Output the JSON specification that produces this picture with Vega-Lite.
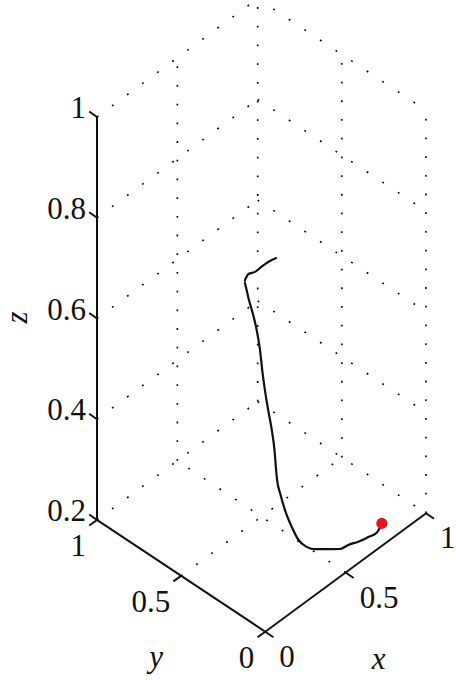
{
  "$schema": "https://vega.github.io/schema/vega-lite/v6.json",
  "width": 456,
  "height": 680,
  "padding": 0,
  "autosize": {"type": "none"},
  "background": "white",
  "config": {"view": {"stroke": null}},
  "datasets": {
    "grid": [
      {"x1": 0, "y1": 1, "z1": 0.2, "x2": 1, "y2": 1, "z2": 0.2},
      {"x1": 0, "y1": 1, "z1": 0.4, "x2": 1, "y2": 1, "z2": 0.4},
      {"x1": 0, "y1": 1, "z1": 0.6, "x2": 1, "y2": 1, "z2": 0.6},
      {"x1": 0, "y1": 1, "z1": 0.8, "x2": 1, "y2": 1, "z2": 0.8},
      {"x1": 0, "y1": 1, "z1": 1, "x2": 1, "y2": 1, "z2": 1},
      {"x1": 1, "y1": 1, "z1": 0.2, "x2": 1, "y2": 0, "z2": 0.2},
      {"x1": 1, "y1": 1, "z1": 0.4, "x2": 1, "y2": 0, "z2": 0.4},
      {"x1": 1, "y1": 1, "z1": 0.6, "x2": 1, "y2": 0, "z2": 0.6},
      {"x1": 1, "y1": 1, "z1": 0.8, "x2": 1, "y2": 0, "z2": 0.8},
      {"x1": 1, "y1": 1, "z1": 1, "x2": 1, "y2": 0, "z2": 1},
      {"x1": 0.5, "y1": 1, "z1": 0.2, "x2": 0.5, "y2": 1, "z2": 1},
      {"x1": 1, "y1": 1, "z1": 0.2, "x2": 1, "y2": 1, "z2": 1},
      {"x1": 1, "y1": 0.5, "z1": 0.2, "x2": 1, "y2": 0.5, "z2": 1},
      {"x1": 1, "y1": 0, "z1": 0.2, "x2": 1, "y2": 0, "z2": 1},
      {"x1": 0.5, "y1": 0, "z1": 0.2, "x2": 0.5, "y2": 1, "z2": 0.2},
      {"x1": 0, "y1": 0.5, "z1": 0.2, "x2": 1, "y2": 0.5, "z2": 0.2}
    ],
    "axes": [
      {"x1": 0, "y1": 1, "z1": 0.2, "x2": 0, "y2": 1, "z2": 1},
      {"x1": 0, "y1": 0, "z1": 0.2, "x2": 0, "y2": 1, "z2": 0.2},
      {"x1": 0, "y1": 0, "z1": 0.2, "x2": 1, "y2": 0, "z2": 0.2}
    ],
    "ticks": [
      {"axis": "z", "x": 0, "y": 1, "z": 0.2, "label": "0.2"},
      {"axis": "z", "x": 0, "y": 1, "z": 0.4, "label": "0.4"},
      {"axis": "z", "x": 0, "y": 1, "z": 0.6, "label": "0.6"},
      {"axis": "z", "x": 0, "y": 1, "z": 0.8, "label": "0.8"},
      {"axis": "z", "x": 0, "y": 1, "z": 1, "label": "1"},
      {"axis": "x", "x": 0, "y": 0, "z": 0.2, "label": "0"},
      {"axis": "x", "x": 0.5, "y": 0, "z": 0.2, "label": "0.5"},
      {"axis": "x", "x": 1, "y": 0, "z": 0.2, "label": "1"},
      {"axis": "y", "x": 0, "y": 0, "z": 0.2, "label": "0"},
      {"axis": "y", "x": 0, "y": 0.5, "z": 0.2, "label": "0.5"},
      {"axis": "y", "x": 0, "y": 1, "z": 0.2, "label": "1"}
    ],
    "titles": [
      {"axis": "x", "x": 0.5, "y": 0, "z": 0.2, "label": "x"},
      {"axis": "y", "x": 0, "y": 0.5, "z": 0.2, "label": "y"},
      {"axis": "z", "x": 0, "y": 1, "z": 0.6, "label": "z"}
    ],
    "curve": [
      {"i": 1, "x": 0.352, "y": 0.268, "z": 0.800},
      {"i": 2, "x": 0.326, "y": 0.294, "z": 0.792},
      {"i": 3, "x": 0.306, "y": 0.314, "z": 0.783},
      {"i": 4, "x": 0.286, "y": 0.334, "z": 0.773},
      {"i": 5, "x": 0.266, "y": 0.354, "z": 0.769},
      {"i": 6, "x": 0.258, "y": 0.362, "z": 0.761},
      {"i": 7, "x": 0.253, "y": 0.367, "z": 0.754},
      {"i": 8, "x": 0.258, "y": 0.362, "z": 0.744},
      {"i": 9, "x": 0.266, "y": 0.354, "z": 0.721},
      {"i": 10, "x": 0.276, "y": 0.344, "z": 0.698},
      {"i": 11, "x": 0.289, "y": 0.331, "z": 0.664},
      {"i": 12, "x": 0.301, "y": 0.319, "z": 0.618},
      {"i": 13, "x": 0.309, "y": 0.311, "z": 0.571},
      {"i": 14, "x": 0.316, "y": 0.304, "z": 0.538},
      {"i": 15, "x": 0.326, "y": 0.294, "z": 0.498},
      {"i": 16, "x": 0.337, "y": 0.283, "z": 0.458},
      {"i": 17, "x": 0.345, "y": 0.275, "z": 0.419},
      {"i": 18, "x": 0.350, "y": 0.270, "z": 0.379},
      {"i": 19, "x": 0.353, "y": 0.267, "z": 0.359},
      {"i": 20, "x": 0.362, "y": 0.258, "z": 0.333},
      {"i": 21, "x": 0.377, "y": 0.243, "z": 0.299},
      {"i": 22, "x": 0.397, "y": 0.223, "z": 0.266},
      {"i": 23, "x": 0.418, "y": 0.202, "z": 0.239},
      {"i": 24, "x": 0.443, "y": 0.177, "z": 0.225},
      {"i": 25, "x": 0.468, "y": 0.162, "z": 0.218},
      {"i": 26, "x": 0.519, "y": 0.131, "z": 0.213},
      {"i": 27, "x": 0.570, "y": 0.100, "z": 0.208},
      {"i": 28, "x": 0.610, "y": 0.090, "z": 0.209},
      {"i": 29, "x": 0.656, "y": 0.074, "z": 0.208},
      {"i": 30, "x": 0.702, "y": 0.058, "z": 0.210},
      {"i": 31, "x": 0.748, "y": 0.052, "z": 0.209},
      {"i": 32, "x": 0.789, "y": 0.061, "z": 0.216}
    ],
    "marker": [
      {"x": 0.789, "y": 0.061, "z": 0.216}
    ]
  },
  "layer": [
    {
      "data": {"name": "grid"},
      "transform": [
        {"calculate": "160.7*datum.x1 - 168.3*datum.y1", "as": "sx"},
        {"calculate": "118.4*datum.x1 + 111.7*datum.y1 + 503.75*(datum.z1 - 0.2)", "as": "sy"},
        {"calculate": "160.7*datum.x2 - 168.3*datum.y2", "as": "sx2"},
        {"calculate": "118.4*datum.x2 + 111.7*datum.y2 + 503.75*(datum.z2 - 0.2)", "as": "sy2"}
      ],
      "mark": {"type": "rule", "color": "#000000", "strokeWidth": 1.6, "strokeDash": [1.8, 16.9], "strokeCap": "butt"},
      "encoding": {
        "x": {"field": "sx", "type": "quantitative", "scale": {"domain": [-265.3, 190.7], "nice": false, "zero": false}, "axis": null},
        "y": {"field": "sy", "type": "quantitative", "scale": {"domain": [-48.3, 631.7], "nice": false, "zero": false}, "axis": null},
        "x2": {"field": "sx2"},
        "y2": {"field": "sy2"}
      }
    },
    {
      "data": {"name": "axes"},
      "transform": [
        {"calculate": "160.7*datum.x1 - 168.3*datum.y1", "as": "sx"},
        {"calculate": "118.4*datum.x1 + 111.7*datum.y1 + 503.75*(datum.z1 - 0.2)", "as": "sy"},
        {"calculate": "160.7*datum.x2 - 168.3*datum.y2", "as": "sx2"},
        {"calculate": "118.4*datum.x2 + 111.7*datum.y2 + 503.75*(datum.z2 - 0.2)", "as": "sy2"}
      ],
      "mark": {"type": "rule", "color": "#111111", "strokeWidth": 2, "strokeCap": "square"},
      "encoding": {
        "x": {"field": "sx", "type": "quantitative", "scale": {"domain": [-265.3, 190.7], "nice": false, "zero": false}, "axis": null},
        "y": {"field": "sy", "type": "quantitative", "scale": {"domain": [-48.3, 631.7], "nice": false, "zero": false}, "axis": null},
        "x2": {"field": "sx2"},
        "y2": {"field": "sy2"}
      }
    },
    {
      "data": {"name": "ticks"},
      "transform": [
        {"calculate": "160.7*datum.x - 168.3*datum.y", "as": "sx"},
        {"calculate": "118.4*datum.x + 111.7*datum.y + 503.75*(datum.z - 0.2)", "as": "sy"},
        {"calculate": "datum.sx + (datum.axis == 'x' ? 8 : -7.8)", "as": "sx2"},
        {"calculate": "datum.sy + (datum.axis == 'z' ? 5.5 : -5.5)", "as": "sy2"}
      ],
      "mark": {"type": "rule", "color": "#111111", "strokeWidth": 2},
      "encoding": {
        "x": {"field": "sx", "type": "quantitative", "scale": {"domain": [-265.3, 190.7], "nice": false, "zero": false}, "axis": null},
        "y": {"field": "sy", "type": "quantitative", "scale": {"domain": [-48.3, 631.7], "nice": false, "zero": false}, "axis": null},
        "x2": {"field": "sx2"},
        "y2": {"field": "sy2"}
      }
    },
    {
      "data": {"name": "ticks"},
      "transform": [
        {"filter": "datum.axis == 'z'"},
        {"calculate": "160.7*datum.x - 168.3*datum.y", "as": "sx"},
        {"calculate": "118.4*datum.x + 111.7*datum.y + 503.75*(datum.z - 0.2)", "as": "sy"}
      ],
      "mark": {"type": "text", "font": "Liberation Serif", "fontSize": 31, "color": "#111111", "align": "right", "baseline": "alphabetic", "dx": -11, "dy": 1},
      "encoding": {
        "x": {"field": "sx", "type": "quantitative", "scale": {"domain": [-265.3, 190.7], "nice": false, "zero": false}, "axis": null},
        "y": {"field": "sy", "type": "quantitative", "scale": {"domain": [-48.3, 631.7], "nice": false, "zero": false}, "axis": null},
        "text": {"field": "label"}
      }
    },
    {
      "data": {"name": "ticks"},
      "transform": [
        {"filter": "datum.axis == 'y'"},
        {"calculate": "160.7*datum.x - 168.3*datum.y", "as": "sx"},
        {"calculate": "118.4*datum.x + 111.7*datum.y + 503.75*(datum.z - 0.2)", "as": "sy"}
      ],
      "mark": {"type": "text", "font": "Liberation Serif", "fontSize": 31, "color": "#111111", "align": "right", "baseline": "alphabetic", "dx": -11, "dy": 36},
      "encoding": {
        "x": {"field": "sx", "type": "quantitative", "scale": {"domain": [-265.3, 190.7], "nice": false, "zero": false}, "axis": null},
        "y": {"field": "sy", "type": "quantitative", "scale": {"domain": [-48.3, 631.7], "nice": false, "zero": false}, "axis": null},
        "text": {"field": "label"}
      }
    },
    {
      "data": {"name": "ticks"},
      "transform": [
        {"filter": "datum.axis == 'x'"},
        {"calculate": "160.7*datum.x - 168.3*datum.y", "as": "sx"},
        {"calculate": "118.4*datum.x + 111.7*datum.y + 503.75*(datum.z - 0.2)", "as": "sy"}
      ],
      "mark": {"type": "text", "font": "Liberation Serif", "fontSize": 31, "color": "#111111", "align": "left", "baseline": "alphabetic", "dx": 14, "dy": 35},
      "encoding": {
        "x": {"field": "sx", "type": "quantitative", "scale": {"domain": [-265.3, 190.7], "nice": false, "zero": false}, "axis": null},
        "y": {"field": "sy", "type": "quantitative", "scale": {"domain": [-48.3, 631.7], "nice": false, "zero": false}, "axis": null},
        "text": {"field": "label"}
      }
    },
    {
      "data": {"name": "titles"},
      "transform": [
        {"filter": "datum.axis == 'x'"},
        {"calculate": "160.7*datum.x - 168.3*datum.y", "as": "sx"},
        {"calculate": "118.4*datum.x + 111.7*datum.y + 503.75*(datum.z - 0.2)", "as": "sy"}
      ],
      "mark": {"type": "text", "font": "Liberation Serif", "fontStyle": "italic", "fontSize": 31, "color": "#111111", "align": "center", "baseline": "alphabetic", "dx": 33, "dy": 96},
      "encoding": {
        "x": {"field": "sx", "type": "quantitative", "scale": {"domain": [-265.3, 190.7], "nice": false, "zero": false}, "axis": null},
        "y": {"field": "sy", "type": "quantitative", "scale": {"domain": [-48.3, 631.7], "nice": false, "zero": false}, "axis": null},
        "text": {"field": "label"}
      }
    },
    {
      "data": {"name": "titles"},
      "transform": [
        {"filter": "datum.axis == 'y'"},
        {"calculate": "160.7*datum.x - 168.3*datum.y", "as": "sx"},
        {"calculate": "118.4*datum.x + 111.7*datum.y + 503.75*(datum.z - 0.2)", "as": "sy"}
      ],
      "mark": {"type": "text", "font": "Liberation Serif", "fontStyle": "italic", "fontSize": 31, "color": "#111111", "align": "center", "baseline": "alphabetic", "dx": -25, "dy": 91},
      "encoding": {
        "x": {"field": "sx", "type": "quantitative", "scale": {"domain": [-265.3, 190.7], "nice": false, "zero": false}, "axis": null},
        "y": {"field": "sy", "type": "quantitative", "scale": {"domain": [-48.3, 631.7], "nice": false, "zero": false}, "axis": null},
        "text": {"field": "label"}
      }
    },
    {
      "data": {"name": "titles"},
      "transform": [
        {"filter": "datum.axis == 'z'"},
        {"calculate": "160.7*datum.x - 168.3*datum.y", "as": "sx"},
        {"calculate": "118.4*datum.x + 111.7*datum.y + 503.75*(datum.z - 0.2)", "as": "sy"}
      ],
      "mark": {"type": "text", "font": "Liberation Serif", "fontStyle": "italic", "fontSize": 31, "color": "#111111", "align": "center", "baseline": "alphabetic", "angle": 270, "dx": 1, "dy": -70},
      "encoding": {
        "x": {"field": "sx", "type": "quantitative", "scale": {"domain": [-265.3, 190.7], "nice": false, "zero": false}, "axis": null},
        "y": {"field": "sy", "type": "quantitative", "scale": {"domain": [-48.3, 631.7], "nice": false, "zero": false}, "axis": null},
        "text": {"field": "label"}
      }
    },
    {
      "data": {"name": "curve"},
      "transform": [
        {"calculate": "160.7*datum.x - 168.3*datum.y", "as": "sx"},
        {"calculate": "118.4*datum.x + 111.7*datum.y + 503.75*(datum.z - 0.2)", "as": "sy"}
      ],
      "mark": {"type": "line", "color": "#111111", "strokeWidth": 2.2, "interpolate": "monotone"},
      "encoding": {
        "x": {"field": "sx", "type": "quantitative", "scale": {"domain": [-265.3, 190.7], "nice": false, "zero": false}, "axis": null},
        "y": {"field": "sy", "type": "quantitative", "scale": {"domain": [-48.3, 631.7], "nice": false, "zero": false}, "axis": null},
        "order": {"field": "i", "type": "quantitative"}
      }
    },
    {
      "data": {"name": "marker"},
      "transform": [
        {"calculate": "160.7*datum.x - 168.3*datum.y", "as": "sx"},
        {"calculate": "118.4*datum.x + 111.7*datum.y + 503.75*(datum.z - 0.2)", "as": "sy"}
      ],
      "mark": {"type": "point", "filled": true, "shape": "circle", "color": "#e8141c", "opacity": 1, "size": 125},
      "encoding": {
        "x": {"field": "sx", "type": "quantitative", "scale": {"domain": [-265.3, 190.7], "nice": false, "zero": false}, "axis": null},
        "y": {"field": "sy", "type": "quantitative", "scale": {"domain": [-48.3, 631.7], "nice": false, "zero": false}, "axis": null}
      }
    }
  ]
}
